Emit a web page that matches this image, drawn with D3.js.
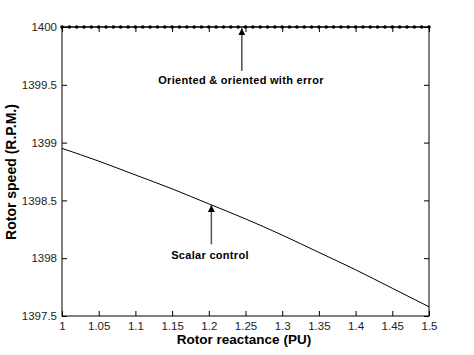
<!DOCTYPE html>
<html><head><meta charset="utf-8">
<script src="https://cdn.jsdelivr.net/npm/d3@7"></script>
<style>body{margin:0;background:#fff}</style>
</head><body>
<svg id="c" width="474" height="355"></svg>
<script>
// Data
const xTicks = [1, 1.05, 1.1, 1.15, 1.2, 1.25, 1.3, 1.35, 1.4, 1.45, 1.5];
const yTicks = [1397.5, 1398, 1398.5, 1399, 1399.5, 1400];
const orientedX = [1.00,1.01,1.02,1.03,1.04,1.05,1.06,1.07,1.08,1.09,1.10,1.11,1.12,1.13,1.14,1.15,1.16,1.17,1.18,1.19,1.20,1.21,1.22,1.23,1.24,1.25,1.26,1.27,1.28,1.29,1.30,1.31,1.32,1.33,1.34,1.35,1.36,1.37,1.38,1.39,1.40,1.41,1.42,1.43,1.44,1.45,1.46,1.47,1.48,1.49,1.50];
const orientedY = [1400,1400,1400,1400,1400,1400,1400,1400,1400,1400,1400,1400,1400,1400,1400,1400,1400,1400,1400,1400,1400,1400,1400,1400,1400,1400,1400,1400,1400,1400,1400,1400,1400,1400,1400,1400,1400,1400,1400,1400,1400,1400,1400,1400,1400,1400,1400,1400,1400,1400,1400];
const scalarX = [1, 1.05, 1.1, 1.15, 1.2, 1.25, 1.3, 1.35, 1.4, 1.45, 1.5];
const scalarY = [1398.95, 1398.84, 1398.72, 1398.60, 1398.47, 1398.34, 1398.20, 1398.05, 1397.90, 1397.74, 1397.58];

const L = 62, R = 429, T = 27, B = 316;
const svg = d3.select("#c");
const x = d3.scaleLinear().domain([1, 1.5]).range([L, R]);
const y = d3.scaleLinear().domain([1397.5, 1400]).range([B, T]);
const font = "Arial, 'Liberation Sans', sans-serif";

// frame
svg.append("rect").attr("x", L).attr("y", T).attr("width", R - L).attr("height", B - T)
  .attr("fill", "none").attr("stroke", "#000").attr("stroke-width", 1);

function styleAxis(g, showLabels) {
  g.select(".domain").remove();
  g.selectAll(".tick line").attr("stroke", "#000");
  g.selectAll(".tick text").attr("fill", "#222").style("font-family", font).style("font-size", "11.5px");
  if (!showLabels) g.selectAll(".tick text").remove();
}
const fmt = d => String(+d.toFixed(2));
svg.append("g").attr("transform", `translate(0,${B})`)
  .call(d3.axisBottom(x).tickValues(xTicks).tickFormat(fmt).tickSizeInner(-5).tickSizeOuter(0).tickPadding(6))
  .call(g => styleAxis(g, true));
svg.append("g").attr("transform", `translate(0,${T})`)
  .call(d3.axisTop(x).tickValues(xTicks).tickSizeInner(-5).tickSizeOuter(0))
  .call(g => styleAxis(g, false));
svg.append("g").attr("transform", `translate(${L},0)`)
  .call(d3.axisLeft(y).tickValues(yTicks).tickFormat(fmt).tickSizeInner(-5).tickSizeOuter(0).tickPadding(5))
  .call(g => styleAxis(g, true));
svg.append("g").attr("transform", `translate(${R},0)`)
  .call(d3.axisRight(y).tickValues(yTicks).tickSizeInner(-5).tickSizeOuter(0))
  .call(g => styleAxis(g, false));

// series
const line = d3.line().x(d => x(d[0])).y(d => y(d[1]));
const oriented = d3.zip(orientedX, orientedY);
const scalar = d3.zip(scalarX, scalarY);
svg.append("path").datum(oriented).attr("d", line).attr("fill", "none").attr("stroke", "#000").attr("stroke-width", 1);
svg.append("g").selectAll("circle").data(oriented).join("circle")
  .attr("cx", d => x(d[0])).attr("cy", d => y(d[1])).attr("r", 1.8).attr("fill", "#000");
svg.append("path").datum(scalar).attr("d", d3.line().curve(d3.curveMonotoneX).x(d => x(d[0])).y(d => y(d[1])))
  .attr("fill", "none").attr("stroke", "#000").attr("stroke-width", 1);

// arrows
const defs = svg.append("defs");
defs.append("marker").attr("id", "ah").attr("viewBox", "0 0 10 10").attr("refX", 10).attr("refY", 5)
  .attr("markerWidth", 7).attr("markerHeight", 7).attr("markerUnits", "userSpaceOnUse").attr("orient", "auto")
  .append("path").attr("d", "M0,0 L10,5 L0,10 Z").attr("fill", "#000");
svg.append("line").attr("x1", x(1.245)).attr("x2", x(1.245)).attr("y1", y(1399.62)).attr("y2", y(1399.99))
  .attr("stroke", "#333").attr("stroke-width", 1.3).attr("marker-end", "url(#ah)");
svg.append("line").attr("x1", x(1.2035)).attr("x2", x(1.2035)).attr("y1", y(1398.12)).attr("y2", y(1398.46))
  .attr("stroke", "#555").attr("stroke-width", 1.5).attr("marker-end", "url(#ah)");

// annotations
svg.append("text").attr("x", 241).attr("y", 84).attr("text-anchor", "middle")
  .style("font-family", font).style("font-size", "11px").style("font-weight", "bold").style("letter-spacing", "0.3px")
  .text("Oriented & oriented with error");
svg.append("text").attr("x", 210).attr("y", 259).attr("text-anchor", "middle")
  .style("font-family", font).style("font-size", "11px").style("font-weight", "bold").style("letter-spacing", "0.3px")
  .text("Scalar control");

// axis titles
svg.append("text").attr("x", 244).attr("y", 344).attr("text-anchor", "middle")
  .style("font-family", font).style("font-size", "13.5px").style("font-weight", "bold")
  .text("Rotor reactance (PU)");
svg.append("text").attr("transform", "translate(16,172) rotate(-90)").attr("text-anchor", "middle")
  .style("font-family", font).style("font-size", "14px").style("font-weight", "bold")
  .text("Rotor speed (R.P.M.)");
</script>
</body></html>
